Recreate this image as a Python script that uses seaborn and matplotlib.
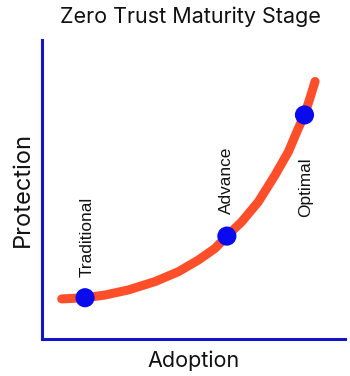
import matplotlib
matplotlib.use("Agg")
import matplotlib.pyplot as plt
import seaborn as sns
import pandas as pd

# Curve (adoption vs protection)
curve_x = [0.65, 1.42, 2.08, 2.85, 3.73, 4.50, 5.16, 5.71, 6.10, 6.59,
           7.14, 7.69, 8.13, 8.46, 8.66, 8.84, 9.01]
curve_y = [1.34, 1.38, 1.47, 1.64, 1.92, 2.25, 2.64, 3.03, 3.44, 3.92,
           4.59, 5.48, 6.26, 7.05, 7.49, 8.05, 8.61]

# Stage points
stages = ["Traditional", "Advance", "Optimal"]
stage_x = [1.42, 6.10, 8.66]
stage_y = [1.38, 3.44, 7.49]
# label anchor (bottom of rotated text) in data coords
label_x = [1.48, 6.10, 8.70]
label_y = [2.08, 4.17, 4.09]

sns.set_theme(style="white")
plt.rcParams["font.family"] = ["Inter", "DejaVu Sans"]

fig = plt.figure(figsize=(3.5, 3.76), dpi=100)
ax = fig.add_axes([0.12, 0.0984, 0.866, 0.7956])

df_curve = pd.DataFrame({"x": curve_x, "y": curve_y})
df_pts = pd.DataFrame({"x": stage_x, "y": stage_y, "stage": stages})

sns.lineplot(data=df_curve, x="x", y="y", ax=ax, color="#FF4F2A",
             linewidth=6.5, solid_capstyle="round", solid_joinstyle="round",
             sort=False)
sns.scatterplot(data=df_pts, x="x", y="y", ax=ax, color="#0A0AEE",
                s=190, edgecolor="none", zorder=5)

for name, xv, yv in zip(stages, label_x, label_y):
    ax.text(xv, yv, name, rotation=90, ha="center", va="bottom",
            fontsize=12.4, family=["Liberation Sans", "DejaVu Sans"], color="#111111")

ax.set_xlim(0, 10)
ax.set_ylim(0, 10)
ax.set_xticks([])
ax.set_yticks([])
for s in ["top", "right"]:
    ax.spines[s].set_visible(False)
for s in ["left", "bottom"]:
    ax.spines[s].set_color("#1414C8")
    ax.spines[s].set_linewidth(2.2)

ax.set_xlabel("Adoption", fontsize=15.5, color="#111111", labelpad=8)
ax.set_ylabel("Protection", fontsize=17, color="#111111", labelpad=6)
fig.text(0.543, 0.955, "Zero Trust Maturity Stage", ha="center", va="center",
         fontsize=15.5, color="#111111")

fig.savefig("out.png", dpi=100)
